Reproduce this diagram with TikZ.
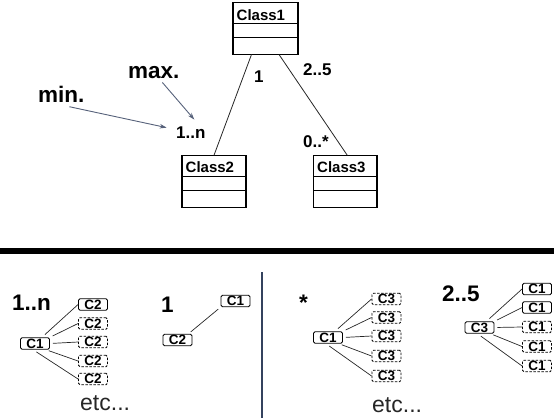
\documentclass[tikz,border=0pt]{standalone}
\usepackage{fontspec}
\setmainfont{Liberation Sans}
\usetikzlibrary{arrows.meta}
\definecolor{slate}{HTML}{56617A}
\definecolor{sepblue}{HTML}{34425E}
\begin{document}
\begin{tikzpicture}[x=1pt,y=-1pt,
  classbox/.style={draw,line width=1.1pt,minimum height=52pt,inner sep=0pt,outer sep=0pt},
  divider/.style={line width=1.1pt},
  classname/.style={anchor=base west,inner sep=0pt,font=\bfseries\fontsize{15}{18}\selectfont},
  mult/.style={anchor=base west,inner sep=0pt,font=\bfseries\fontsize{17}{20}\selectfont},
  bigtxt/.style={anchor=base west,inner sep=0pt,font=\bfseries\fontsize{22.5}{26}\selectfont},
  etcstyle/.style={anchor=base west,inner sep=0pt,font=\fontsize{23}{27}\selectfont,text=black!85},
  assoc/.style={line width=0.8pt,draw=black!85},
  pointer/.style={draw=slate,line width=0.9pt,-{Stealth[length=7pt,width=4.5pt]}},
  sbox/.style={draw,rounded corners=1.5pt,line width=0.9pt,minimum width=29pt,minimum height=11.5pt,inner sep=0pt,font=\bfseries\fontsize{13.5}{14}\selectfont},
  dbox/.style={sbox,dash pattern=on 2.5pt off 1.5pt},
  link/.style={line width=0.7pt,draw=black!85,shorten <=3pt}
]
\useasboundingbox (0,0) rectangle (554,418);

% ---------- top UML part ----------
\node[classbox,minimum width=65pt] (cls1) at (265.5,28.5) {};
\node[classbox,minimum width=64pt] (cls2) at (214,181.25) {};
\node[classbox,minimum width=63.5pt] (cls3) at (345.25,181.25) {};
\foreach \b in {cls1,cls2,cls3}{
  \draw[divider] ([yshift=-21pt]\b.north west) -- ([yshift=-21pt]\b.north east);
  \draw[divider] ([yshift=-35pt]\b.north west) -- ([yshift=-35pt]\b.north east);
}
\node[classname] (n1) at ([xshift=3.5pt,yshift=-17.5pt]cls1.north west) {Class1};
\node[classname] (n2) at ([xshift=3.5pt,yshift=-17.5pt]cls2.north west) {Class2};
\node[classname] (n3) at ([xshift=3.5pt,yshift=-17.5pt]cls3.north west) {Class3};

\draw[assoc] ([xshift=-14pt]cls1.south) -- (cls2.north);
\draw[assoc] ([xshift=13.5pt]cls1.south) -- ([xshift=2pt]cls3.north);

\node[mult] (m1) at (254,82) {1};
\node[mult] (m25) at (303,75) {2..5};
\node[mult] (m1n) at (176,138) {1..n};
\node[mult] (m0s) at (303,147) {0..*};
\node[bigtxt] (max) at (128,78) {max.};
\node[bigtxt] (min) at (38,102) {min.};

\draw[pointer] ([xshift=8pt,yshift=-4.5pt]min.south) -- ([xshift=-9.3pt,yshift=4.5pt]m1n.west);
\draw[pointer] ([xshift=8.5pt,yshift=-4pt]max.south) -- ([xshift=3.5pt,yshift=6.5pt]m1n.north);

% ---------- separators ----------
\coordinate (sepL) at (0,251);
\coordinate (sepR) at (554,251);
\draw[line width=6pt] (sepL) -- (sepR);
\coordinate (vT) at (262,272);
\coordinate (vB) at (262,418);
\draw[line width=1.3pt,draw=sepblue] (vT) -- (vB);

% ---------- group 1..n ----------
\node[bigtxt] (l1n) at (12,310) {1..n};
\node[sbox] (a1) at (35,343.5) {C1};
\node[sbox] (a2) at (93,304.5) {C2};
\node[dbox] (a3) at (93,323.5) {C2};
\node[dbox] (a4) at (93,342) {C2};
\node[dbox] (a5) at (93,361) {C2};
\node[dbox] (a6) at (93,379) {C2};
\draw[link,shorten <=4pt] ([xshift=-8pt]a1.north east) -- (a2.west);
\draw[link] (a1.north east) -- (a3.west);
\draw[link] (a1.east) -- (a4.west);
\draw[link] ([xshift=-4pt]a1.south east) -- (a5.west);
\draw[link,shorten <=4pt] ([xshift=-2pt]a1.south) -- (a6.west);
\node[etcstyle] (etc1) at (80,410) {etc...};

% ---------- group 1 ----------
\node[bigtxt] (l1) at (161,312) {1};
\node[sbox] (b1) at (235.5,301) {C1};
\node[sbox] (b2) at (177.5,340) {C2};
\draw[link,shorten >=3pt] ([xshift=-4pt]b2.north east) -- (b1.south west);

% ---------- group * ----------
\node[bigtxt] (lstar) at (299,310.5) {*};
\node[sbox] (s1) at (328,337.5) {C1};
\node[dbox] (s2) at (386.5,299) {C3};
\node[dbox] (s3) at (386.5,317.5) {C3};
\node[dbox] (s4) at (386.5,336) {C3};
\node[dbox] (s5) at (386.5,356) {C3};
\node[dbox] (s6) at (386.5,376) {C3};
\draw[link,shorten <=4pt] ([xshift=-8pt]s1.north east) -- (s2.west);
\draw[link] (s1.north east) -- (s3.west);
\draw[link] (s1.east) -- (s4.west);
\draw[link] ([xshift=-4pt]s1.south east) -- (s5.west);
\draw[link,shorten <=4pt] ([xshift=-2pt]s1.south) -- (s6.west);
\node[etcstyle] (etc2) at (372,412) {etc...};

% ---------- group 2..5 ----------
\node[bigtxt] (l25) at (442,301) {2..5};
\node[sbox] (d1) at (479.5,327.5) {C3};
\node[sbox] (d2) at (537,289) {C1};
\node[sbox] (d3) at (537,307.5) {C1};
\node[dbox] (d4) at (537,327) {C1};
\node[dbox] (d5) at (537,346.5) {C1};
\node[dbox] (d6) at (537,366) {C1};
\draw[link,shorten <=4pt] ([xshift=-8pt]d1.north east) -- (d2.west);
\draw[link] (d1.north east) -- (d3.west);
\draw[link] (d1.east) -- (d4.west);
\draw[link] ([xshift=-4pt]d1.south east) -- (d5.west);
\draw[link,shorten <=4pt] ([xshift=-2pt]d1.south) -- (d6.west);
\end{tikzpicture}
\end{document}
